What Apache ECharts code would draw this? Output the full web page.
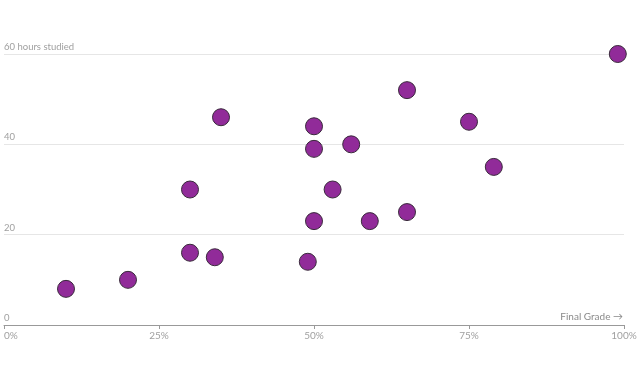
<!DOCTYPE html>
<html><head><meta charset="utf-8">
<script src="https://cdn.jsdelivr.net/npm/echarts@6/dist/echarts.min.js"></script>
<style>html,body{margin:0;padding:0;background:#fff}#c{width:640px;height:383px}</style>
</head><body><div id="c"></div>
<script>
var grades = [10, 20, 30, 30, 34, 35, 49, 50, 50, 50, 53, 56, 59, 65, 65, 75, 79, 99];
var hours  = [8, 10, 16, 30, 15, 46, 14, 44, 39, 23, 30, 40, 23, 52, 25, 45, 35, 60];
var xTicks = [0, 25, 50, 75, 100];
var yTicks = [0, 20, 40, 60];
var data = grades.map(function(g, i){ return [g, hours[i]]; });
var chart = echarts.init(document.getElementById('c'));
chart.setOption({
  animation: false,
  grid: {left: 4, right: 16, top: 54, bottom: 58},
  xAxis: {
    type: 'value', min: 0, max: 100, interval: 25,
    name: 'Final Grade →', nameLocation: 'end', nameGap: -1,
    nameTextStyle: {color: '#8a8a8a', fontFamily: 'Lato', fontSize: 10, align: 'right', verticalAlign: 'bottom', padding: [0, 0, 3, 0]},
    axisLine: {show: true, lineStyle: {color: '#999', width: 1}},
    axisTick: {show: true, length: 4, lineStyle: {color: '#999'}},
    splitLine: {show: false},
    axisLabel: {color: '#a0a0a0', fontFamily: 'Lato', fontSize: 10, margin: 6,
      alignMinLabel: 'left', alignMaxLabel: 'center',
      formatter: function(v){ return xTicks.indexOf(v) >= 0 ? v + '%' : ''; }}
  },
  yAxis: {
    type: 'value', min: 0, max: 60, interval: 20,
    axisLine: {show: false}, axisTick: {show: false},
    splitLine: {show: true, lineStyle: {color: '#e6e6e6', width: 1}},
    axisLabel: {inside: true, color: '#a0a0a0', fontFamily: 'Lato', fontSize: 9.5, margin: 0,
      lineHeight: 10, align: 'left', verticalAlign: 'bottom', padding: [0, 0, 2, 0],
      formatter: function(v){ return yTicks.indexOf(v) < 0 ? '' : (v === 60 ? v + ' hours studied' : '' + v); }}
  },
  series: [{
    type: 'scatter', data: data, symbolSize: 17,
    itemStyle: {color: '#912b99', borderColor: '#3a2a3c', borderWidth: 1, opacity: 1}
  }]
});
</script></body></html>
